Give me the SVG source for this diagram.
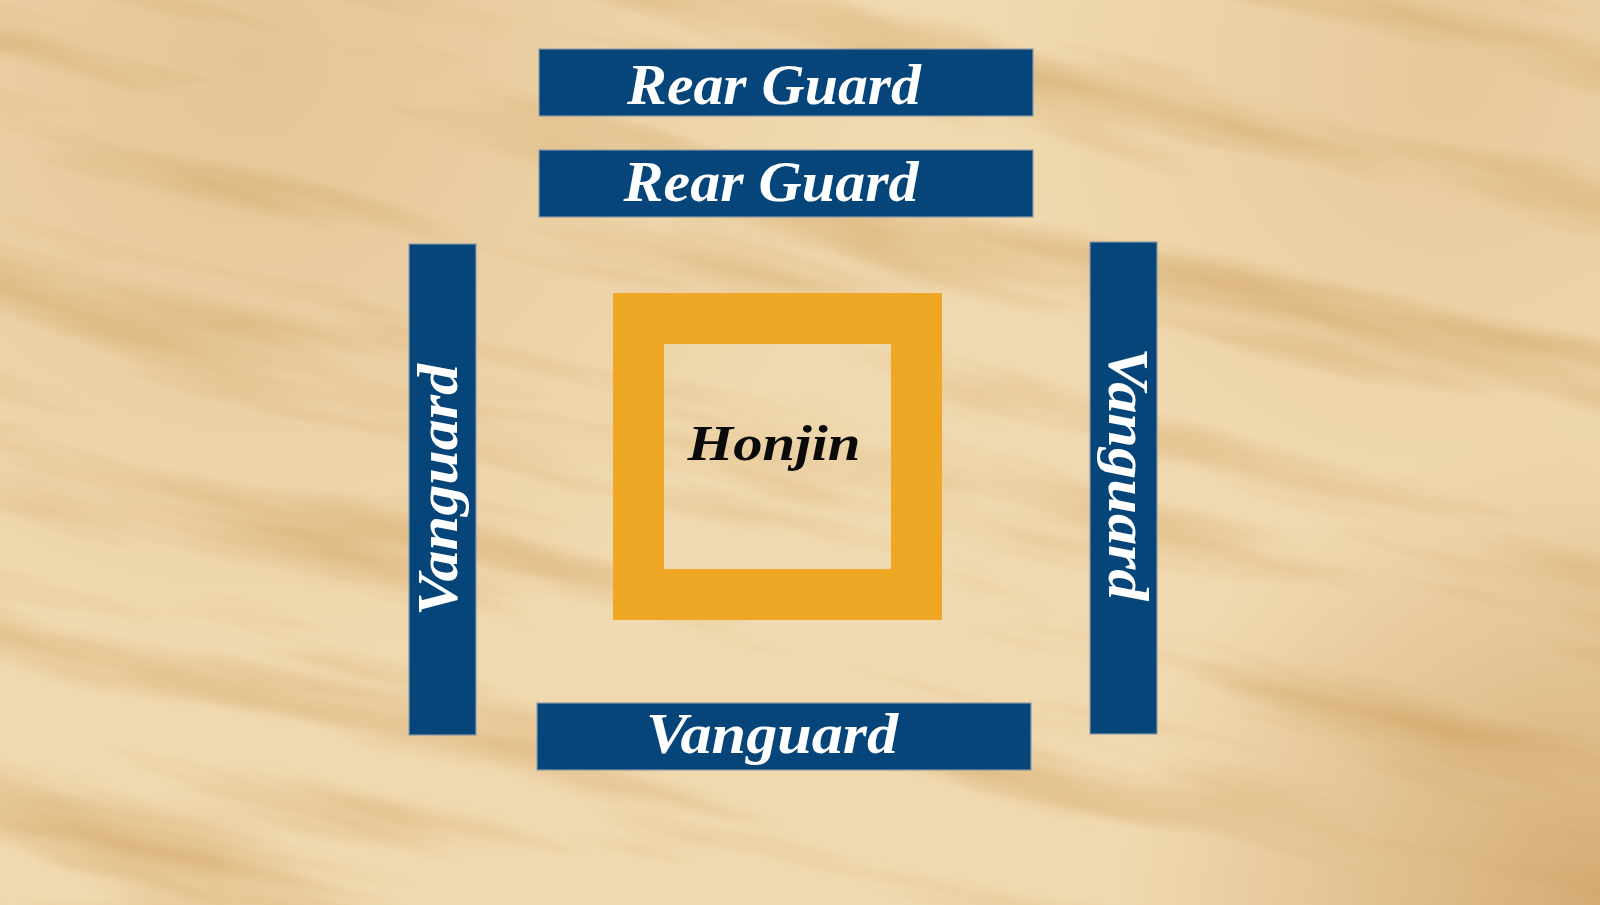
<svg xmlns="http://www.w3.org/2000/svg" width="1600" height="905" viewBox="0 0 1600 905">
<style>
.band{fill:#064579;stroke:#8d9aa6;stroke-width:1.2}
.lbl{font-family:"Liberation Serif","Times New Roman",serif;font-weight:bold;font-style:italic;font-size:56px;fill:#ffffff;text-anchor:middle}
.hon{font-family:"Liberation Serif","Times New Roman",serif;font-weight:bold;font-style:italic;font-size:51px;fill:#0a0a0a;text-anchor:middle}
</style>
<defs>
<filter id="streaks" x="0" y="0" width="100%" height="100%" color-interpolation-filters="sRGB">
<feTurbulence type="fractalNoise" baseFrequency="0.0018 0.012" numOctaves="4" seed="5" result="n"/>
<feColorMatrix in="n" type="matrix" values="0 0 0 0 0.82  0 0 0 0 0.64  0 0 0 0 0.38  2.6 0 0 0 -1.25"/>
</filter>
<radialGradient id="corner" cx="1600" cy="905" r="480" gradientUnits="userSpaceOnUse">
<stop offset="0" stop-color="#c9985a" stop-opacity="0.7"/>
<stop offset="1" stop-color="#c9985a" stop-opacity="0"/>
</radialGradient>
<radialGradient id="tl" cx="250" cy="60" r="600" gradientUnits="userSpaceOnUse">
<stop offset="0" stop-color="#d8b07a" stop-opacity="0.5"/>
<stop offset="1" stop-color="#d8b07a" stop-opacity="0"/>
</radialGradient>
<radialGradient id="tr" cx="1450" cy="80" r="450" gradientUnits="userSpaceOnUse">
<stop offset="0" stop-color="#d8b07a" stop-opacity="0.4"/>
<stop offset="1" stop-color="#d8b07a" stop-opacity="0"/>
</radialGradient>
</defs>
<g id="background">
<rect x="0" y="0" width="1600" height="905" fill="#f0d9b0"/>
<rect x="0" y="0" width="1600" height="905" fill="url(#tl)"/>
<rect x="0" y="0" width="1600" height="905" fill="url(#tr)"/>
<g transform="rotate(13 800 452)" opacity="0.6"><rect x="-500" y="-500" width="2600" height="1900" filter="url(#streaks)"/></g>
<rect x="0" y="0" width="1600" height="905" fill="url(#corner)"/>
</g>
<g id="rear-guard-1">
<rect class="band" x="539" y="49" width="494" height="67"/>
<text class="lbl" x="774" y="104" textLength="294" lengthAdjust="spacingAndGlyphs">Rear Guard</text>
</g>
<g id="rear-guard-2">
<rect class="band" x="539" y="150" width="494" height="67"/>
<text class="lbl" x="771" y="201" textLength="295" lengthAdjust="spacingAndGlyphs">Rear Guard</text>
</g>
<g id="vanguard-left">
<rect class="band" x="409" y="244" width="67" height="491"/>
<text class="lbl" transform="translate(457 490) rotate(-90)" x="0" y="0" textLength="252" lengthAdjust="spacingAndGlyphs">Vanguard</text>
</g>
<g id="vanguard-right">
<rect class="band" x="1090" y="242" width="67" height="492"/>
<text class="lbl" transform="translate(1109 474) rotate(90)" x="0" y="0" textLength="253" lengthAdjust="spacingAndGlyphs">Vanguard</text>
</g>
<g id="vanguard-bottom">
<rect class="band" x="537" y="703" width="494" height="67"/>
<text class="lbl" x="772" y="753" textLength="252" lengthAdjust="spacingAndGlyphs">Vanguard</text>
</g>
<g id="honjin">
<path d="M613 293H942V620H613Z M664 344V569H891V344Z" fill="#efa825" fill-rule="evenodd"/>
<text class="hon" x="774" y="460" textLength="173" lengthAdjust="spacingAndGlyphs">Honjin</text>
</g>
<g id="connectors"/>
</svg>
